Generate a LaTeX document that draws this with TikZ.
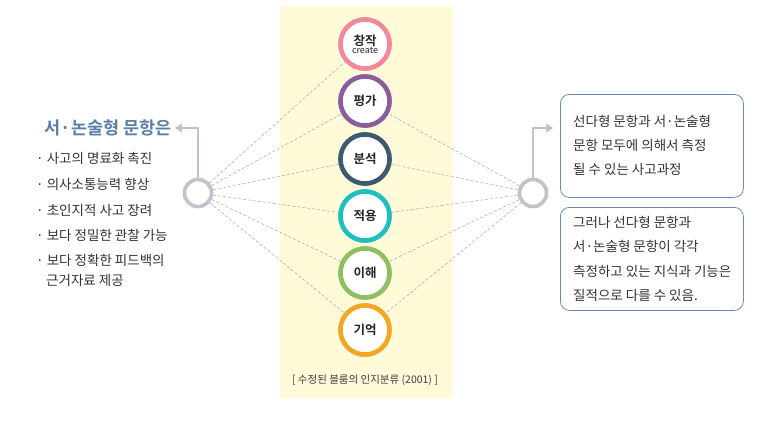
\documentclass[tikz,border=0pt]{standalone}
\usepackage{fontspec}
\setmainfont{Noto Sans CJK KR}
\newfontfamily\kbold{Noto Sans CJK KR Bold}
\usetikzlibrary{arrows.meta}
\definecolor{cpink}{HTML}{F08A9B}
\definecolor{cpurp}{HTML}{8A5E9E}
\definecolor{cslate}{HTML}{3E5A6E}
\definecolor{cteal}{HTML}{1FBFBF}
\definecolor{cgreen}{HTML}{8CC060}
\definecolor{corange}{HTML}{F5A623}
\definecolor{cyel}{HTML}{FFFAD8}
\definecolor{ctitle}{HTML}{5B7FA6}
\definecolor{cbox}{HTML}{6A8AB5}
\definecolor{chub}{HTML}{C0C2CC}
\tikzset{
 lvl/.style={circle,draw=#1,line width=4.5pt,fill=white,minimum size=49pt,inner sep=0pt},
 lbl/.style={font=\kbold\fontsize{12.5}{13}\selectfont,text=black!85},
 hub/.style={circle,draw=chub,line width=3.5pt,fill=white,minimum size=27pt,inner sep=0pt},
 conn/.style={draw=gray!70,densely dashed,line width=0.5pt},
 arr/.style={draw=chub,line width=1.2pt,-{Triangle[length=7pt,width=9pt]}},
 txt/.style={anchor=west,inner sep=0pt,font=\fontsize{13.5}{15}\selectfont,text=black!80},
 infobox/.style={draw=cbox,line width=0.8pt,rounded corners=9pt,minimum width=183pt,minimum height=103pt,anchor=north west}
}
\begin{document}
\begin{tikzpicture}[x=1pt,y=-1pt]
\useasboundingbox (0,0) rectangle (784,424);
\fill[cyel] (280,6) rectangle (453,398);
\node[hub] (L) at (198,193) {};
\node[hub] (R) at (533,193) {};
\node[lvl=cpink] (c1) at (365,44) {};
\node[lvl=cpurp] (c2) at (365,101) {};
\node[lvl=cslate] (c3) at (365,159) {};
\node[lvl=cteal] (c4) at (365,216) {};
\node[lvl=cgreen] (c5) at (365,273) {};
\node[lvl=corange] (c6) at (365,330) {};
\foreach \c in {c1,c2,c3,c4,c5,c6} \draw[conn] (L) -- (\c);
\foreach \c in {c2,c3,c4,c5,c6} \draw[conn] (R) -- (\c);
\foreach \c/\col in {c1/cpink,c2/cpurp,c3/cslate,c4/cteal,c5/cgreen,c6/corange} \node[lvl=\col] at (\c) {};
\node[lbl,align=center] at (c1) {창작\\[-5pt]{\fontspec{Noto Sans CJK KR}\fontsize{9}{10}\selectfont create}};
\foreach \c/\t in {c2/평가,c3/분석,c4/적용,c5/이해,c6/기억} \node[lbl] at (\c) {\t};
\node[hub] at (L) {};
\node[hub] at (R) {};
\node[anchor=east,inner sep=0pt,text=ctitle,font=\kbold\fontsize{17.5}{19}\selectfont] (T) at (172,128) {서·논술형 문항은};
\coordinate (La) at (L.north |- T);
\draw[arr] (L.north) -- (La) -- ([xshift=3pt]T.east);
\node[txt] (b1) at (36,158) {· 사고의 명료화 촉진};
\node[txt] (b2) at (36,184) {· 의사소통능력 향상};
\node[txt] (b3) at (36,210) {· 초인지적 사고 장려};
\node[txt] (b4) at (36,235) {· 보다 정밀한 관찰 가능};
\node[txt] (b5) at (36,260) {· 보다 정확한 피드백의};
\node[txt] (b6) at (46,280) {근거자료 제공};
\node[infobox] (B1) at (560,94) {};
\node[infobox] (B2) at (560,207) {};
\coordinate (Ra) at (R.north |- 0,128);
\draw[arr] (R.north) -- (Ra) -- (553,128);
\node[txt] at (573,121) {선다형 문항과 서·논술형};
\node[txt] at (573,145) {문항 모두에 의해서 측정};
\node[txt] at (573,169) {될 수 있는 사고과정};
\node[txt] at (573,222) {그러나 선다형 문항과};
\node[txt] at (573,246) {서·논술형 문항이 각각};
\node[txt] at (573,271) {측정하고 있는 지식과 기능은};
\node[txt] at (573,295) {질적으로 다를 수 있음.};
\node[font=\fontsize{10.5}{12}\selectfont,text=black!75] (cap) at (365,380) {[ 수정된 블룸의 인지분류 (2001) ]};
\end{tikzpicture}
\end{document}
